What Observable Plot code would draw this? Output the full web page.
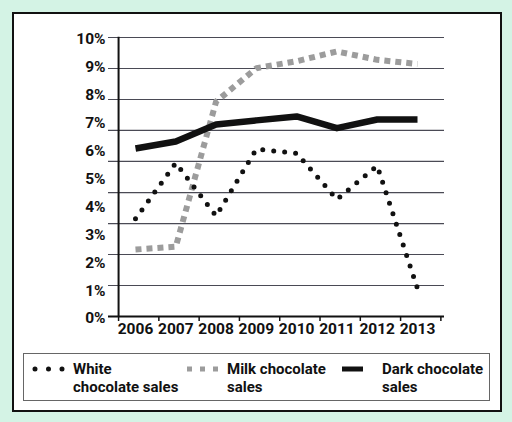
<!DOCTYPE html>
<html>
<head>
<meta charset="utf-8">
<script src="https://cdn.jsdelivr.net/npm/d3@7"></script>
<script src="https://cdn.jsdelivr.net/npm/@observablehq/plot@0.6"></script>
<style>
  html, body { margin: 0; padding: 0; }
  body { width: 512px; height: 422px; background: #d4f3e5; position: relative; overflow: hidden; font-family: Roboto, "Open Sans", sans-serif; color: #111; }
  #panel { position: absolute; left: 12px; top: 12px; width: 486px; height: 396px; background: #fff; border: 2px solid #111; }
  #chart { position: absolute; left: 0; top: 0; }
  #legend { position: absolute; left: 23px; top: 353px; width: 467px; height: 48px; box-sizing: border-box; border: 1.5px solid #666; background: #fff; }
  .item { position: absolute; top: 6px; display: flex; align-items: flex-start; }
  .item svg { margin-top: 4px; flex: none; }
  .item .label { font-size: 15px; font-weight: bold; line-height: 18px; white-space: pre; }
</style>
</head>
<body>
<div id="panel"></div>
<div id="chart"></div>
<div id="legend"></div>
<script>
// Chocolate sales share by year (percent)
const years = [2006, 2007, 2008, 2009, 2010, 2011, 2012, 2013];
const whiteSales = [3.5, 5.5, 3.6, 6.0, 5.85, 4.2, 5.4, 1.0];
const milkSales = [2.4, 2.5, 7.7, 8.9, 9.15, 9.5, 9.2, 9.05];
const darkSales = [6.02, 6.27, 6.88, 7.03, 7.17, 6.75, 7.06, 7.06];

const seriesNames = ["White chocolate sales", "Milk chocolate sales", "Dark chocolate sales"];
const legendLines = [["White", "chocolate sales"], ["Milk chocolate", "sales"], ["Dark chocolate", "sales"]];

// y labels every 1%, but the printed grid has nine equal bands
const yTicks = [0, 1, 2, 3, 4, 5, 6, 7, 8, 9, 10];
const gridLines = [1.11, 2.22, 3.33, 4.44, 5.56, 6.67, 7.78, 8.89, 10];

const toRows = (values) => years.map((year, i) => ({ year, value: values[i] }));
const white = toRows(whiteSales);
const milk = toRows(milkSales);
const dark = toRows(darkSales);

// tick marks sit between the year labels
const boundaries = [...years.map(y => y - 0.42), years[years.length - 1] + 0.58];

const styles = {
  white: { stroke: "#111", strokeWidth: 5, strokeDasharray: "0 11", strokeLinecap: "round" },
  milk: { stroke: "#9c9c9c", strokeWidth: 6, strokeDasharray: "6 5", strokeLinecap: "butt", strokeLinejoin: "miter" },
  dark: { stroke: "#111", strokeWidth: 6.5, strokeLinecap: "butt" },
};

const plot = Plot.plot({
  width: 512,
  height: 345,
  marginLeft: 108,
  marginRight: 68,
  marginTop: 37,
  marginBottom: 29,
  style: { fontFamily: "Roboto, 'Open Sans', sans-serif", fontSize: "15.5px", fontWeight: "bold", color: "#111", background: "transparent", overflow: "visible" },
  x: { domain: [2005.33, 2013.67] },
  y: { domain: [0, 10] },
  marks: [
    Plot.ruleY(gridLines, { stroke: "#4a4a55", strokeWidth: 1.1 }),
    Plot.ruleY([0], { stroke: "#111", strokeWidth: 2 }),
    Plot.ruleX([boundaries[0]], { y1: 0, y2: 10.15, stroke: "#111", strokeWidth: 2, insetBottom: -4 }),
    Plot.axisY({ ticks: yTicks, tickSize: 0, tickPadding: 3, dy: 2, tickFormat: d => d + "%", label: null }),
    Plot.axisX({ ticks: boundaries, tickSize: 5, tickFormat: () => "", label: null, strokeWidth: 1.5 }),
    Plot.axisX({ ticks: years, tickSize: 0, tickPadding: 6, tickFormat: d => String(d), label: null }),
    Plot.line(milk, { x: "year", y: "value", ...styles.milk }),
    Plot.line(dark, { x: "year", y: "value", ...styles.dark }),
    Plot.line(white, { x: "year", y: "value", ...styles.white }),
  ],
});
document.getElementById("chart").appendChild(plot);

// Legend
const legend = document.getElementById("legend");
const itemLeft = [8, 162, 318];
const symbols = [
  `<svg width="41" height="10"><line x1="3" y1="5" x2="32" y2="5" stroke="#111" stroke-width="5" stroke-linecap="round" stroke-dasharray="0 13.5"/></svg>`,
  `<svg width="41" height="10"><line x1="1" y1="5" x2="32" y2="5" stroke="#9c9c9c" stroke-width="5" stroke-dasharray="5 8"/></svg>`,
  `<svg width="40" height="10"><line x1="0" y1="5" x2="21" y2="5" stroke="#111" stroke-width="5"/></svg>`,
];
seriesNames.forEach((name, i) => {
  const item = document.createElement("div");
  item.className = "item";
  item.style.left = itemLeft[i] + "px";
  item.title = name;
  item.innerHTML = symbols[i] + `<div class="label">${legendLines[i].join("\n")}</div>`;
  legend.appendChild(item);
});
</script>
</body>
</html>
